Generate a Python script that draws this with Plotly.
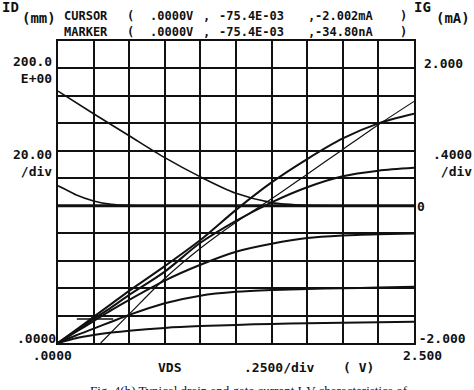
import plotly.graph_objects as go

# ---------------- data ----------------
vds = [0, 0.125, 0.25, 0.375, 0.5, 0.75, 1.0, 1.25, 1.5, 1.75, 2.0, 2.25, 2.5]

id_1 = [0, 3.5, 5.8, 7.6, 9.0, 11.0, 12.3, 13.2, 13.9, 14.4, 14.8, 15.2, 15.5]
id_2 = [0, 5.5, 10.5, 15.5, 20.5, 29.0, 34.5, 37.3, 38.6, 39.3, 39.9, 40.4, 40.9]
id_3 = [0, 8.0, 16.0, 24.0, 31.5, 45.5, 57.0, 66.5, 72.3, 76.5, 78.3, 79.2, 79.8]
id_4 = [0, 9.0, 17.5, 26.0, 35.0, 52.0, 73.0, 89.0, 102.5, 113.5, 121.5, 125.5, 127.6]
id_5 = [0, 9.5, 19.0, 28.5, 38.0, 56.0, 75.0, 97.0, 117.0, 134.0, 149.0, 160.0, 167.0]

vds_thin = [0.3, 0.5, 0.75, 1.0, 1.25, 1.5, 1.75, 2.0, 2.25, 2.5]
id_thin = [0, 21, 47, 69, 88, 105, 123, 141, 159, 176]

vds_ig1 = [0, 0.25, 0.5, 0.75, 1.0, 1.25, 1.5, 1.75, 2.0, 2.5]
ig_1 = [1.67, 1.34, 1.02, 0.70, 0.42, 0.18, 0.045, 0.005, 0, 0]

vds_ig2 = [0, 0.05, 0.125, 0.25, 0.375, 0.5, 0.625, 0.75, 2.5]
ig_2 = [0.29, 0.24, 0.16, 0.07, 0.02, 0.003, 0, 0, 0]

vds_flat = [0, 2.5]
ig_flat = [0, 0]

marker_vds = [0.26]
marker_id = [17.5]

x_tick_labels = [".0000", "2.500"]
left_tick_labels = [".0000", "200.0", "E+00", "20.00", "/div"]
right_tick_labels = ["-2.000", "2.000", ".4000", "/div", "0"]
cursor_line = ["CURSOR", "(", ".0000V", ",", "-75.4E-03", ",", "-2.002mA", ")"]
marker_line = ["MARKER", "(", ".0000V", ",", "-75.4E-03", ",", "-34.80nA", ")"]
caption = "Fig. 4(b) Typical drain and gate current I-V characteristics of"

# ---------------- layout geometry ----------------
W, H = 474, 390
L, R, T, B = 58, 414, 41, 343

def px(x):
    return (x - L) / (R - L)

def py(y):
    return (B - y) / (B - T)

INK = "#111111"
MONO = "DejaVu Sans Mono"
NB = "\u00a0"

fig = go.Figure()

def add_line(x, y, width, axis="y", shape="spline"):
    fig.add_trace(go.Scatter(x=x, y=y, mode="lines", yaxis=axis,
                             line=dict(color=INK, width=width, shape=shape, smoothing=0.8),
                             hoverinfo="skip", showlegend=False))

for curve in (id_1, id_2, id_3, id_4, id_5):
    add_line(vds, curve, 2.0)
add_line(vds_thin, id_thin, 1.2)
add_line(vds_flat, ig_flat, 3.0, axis="y2", shape="linear")
add_line(vds_ig1, ig_1, 1.6, axis="y2")
add_line(vds_ig2, ig_2, 1.6, axis="y2")

fig.add_trace(go.Scatter(x=marker_vds, y=marker_id, mode="markers",
                         marker=dict(symbol="line-ew", size=26, line=dict(color=INK, width=1.5)),
                         hoverinfo="skip", showlegend=False))

fig.update_layout(
    width=W, height=H,
    margin=dict(l=L, r=W - R, t=T, b=H - B, pad=0),
    paper_bgcolor="white", plot_bgcolor="white",
    xaxis=dict(range=[0, 2.5], dtick=0.25, tick0=0, showgrid=True, gridcolor=INK, gridwidth=1.6,
               showline=True, linecolor=INK, linewidth=2, mirror=True, zeroline=False,
               showticklabels=False, ticks=""),
    yaxis=dict(range=[0, 220], dtick=20, tick0=0, showgrid=True, gridcolor=INK, gridwidth=1.6,
               showline=True, linecolor=INK, linewidth=2, mirror=True, zeroline=False,
               showticklabels=False, ticks=""),
    yaxis2=dict(range=[-2, 2.4], overlaying="y", side="right", showgrid=False, zeroline=False,
                showticklabels=False, ticks="", showline=False),
)

annotations = []

def txt(s, x, y, anchor="left", size=14, family=MONO, bold=True, yanchor="middle", align=None):
    annotations.append(dict(
        text=f"<b>{s}</b>" if bold else s, x=px(x), y=py(y), xref="paper", yref="paper",
        xanchor=anchor, yanchor=yanchor, showarrow=False, align=align or anchor if anchor != "center" else "center",
        font=dict(family=family, size=size, color=INK)))

# header
txt("ID", 0, 7)
txt("(mm)", 20, 18)
txt("IG", 412, 7)
txt("(mA)", 434, 18)
header_x = [62, 125, 148, 201, 217, 306, 313, 398]
for a, b, x in zip(cursor_line, marker_line, header_x):
    txt(f"{a}<br>{b}", x, 24, size=12)

# left axis
txt(f"{left_tick_labels[1]}<br>{left_tick_labels[2]}", 54, 70, anchor="right", size=13)
txt(f"{left_tick_labels[3]}<br>{left_tick_labels[4]}", 54, 163, anchor="right", size=13)
# left zero label + x-axis start label (stacked, staggered like the plotter output)
txt(f"{left_tick_labels[0]}<br>{NB * 2}{x_tick_labels[0]}", 15, 347, anchor="left", size=13)

# right axis
txt(right_tick_labels[1], 422, 63, size=13)
txt(f"{right_tick_labels[2]}<br>{NB}{right_tick_labels[3]}", 431, 163, anchor="left", size=13)
txt(right_tick_labels[4], 415, 206, size=13)
txt(f"{NB * 2}{right_tick_labels[0]}<br>{x_tick_labels[1]}", 401, 347, anchor="left", size=13)

# x axis title
txt("VDS", 170, 367, anchor="center", size=13)
txt(".2500/div", 279, 367, anchor="center", size=13)
txt("( V)", 358, 367, anchor="center", size=13)

# caption (cut at the bottom edge, as in the scan)
txt(caption, 249, 381, anchor="center", size=13, family="Liberation Serif", bold=False, yanchor="top")

fig.update_layout(annotations=annotations)
fig.write_html("out.html", config={"displayModeBar": False},
               post_script="document.body.style.margin='0';document.body.style.overflow='hidden';")
